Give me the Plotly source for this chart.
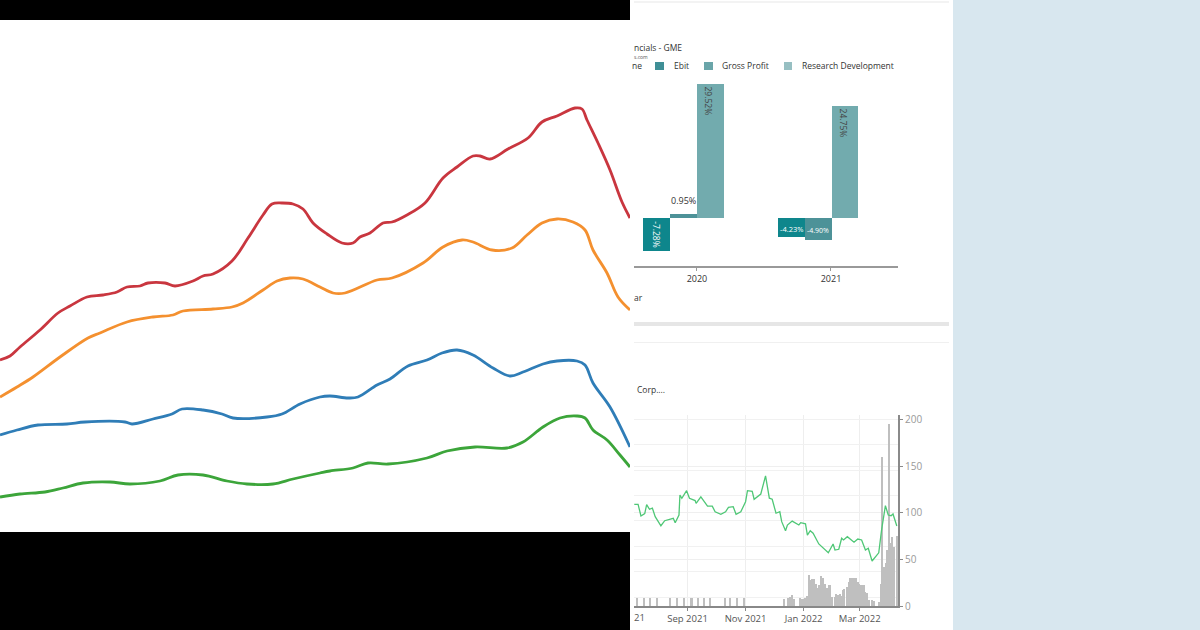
import datetime as dt
import plotly.graph_objects as go

W, H = 1200, 630
FONT = "Open Sans"

# ---- left panel: four smoothed lines (x = period index, y = level)
red_x = [0,10,20,40,58,70,87,103,117,127,140,148,165,175,193,203,213,232,248,263,272,282,293,303,313,327,342,353,360,370,383,392,407,425,443,457,473,480,490,508,528,542,557,575,582,587,598,610,622,630]
red_y = [172,176,185,202,219,226,235,237,240,245,246,249,249,246,251,256,258,271,294,317,328,329,328,323,309,298,289,289,295,299,309,310,317,329,354,365,376,376,373,383,394,410,416,424,423,412,389,362,330,314]
orange_x = [0,17,33,60,88,100,127,153,173,183,213,232,243,263,277,290,303,320,333,345,377,392,423,443,462,473,492,512,527,542,557,573,585,593,607,618,630]
orange_y = [135,145,155,175,194,199,210,215,217,221,223,225,229,242,251,254,253,245,239,239,252,254,269,285,292,290,282,284,297,309,313,310,302,282,259,235,222]
blue_x = [0,17,38,67,85,125,132,153,172,182,203,222,233,267,282,300,320,330,348,358,377,390,408,427,442,457,473,493,510,523,543,557,577,585,593,610,630]
blue_y = [97,102,107,108,110,110,108,113,118,123,122,118,114,115,118,128,135,136,134,135,147,153,166,172,179,182,177,164,156,160,168,171,171,167,149,125,85]
green_x = [0,20,45,63,83,110,130,160,178,203,227,247,273,293,320,330,353,368,388,427,447,475,507,523,543,560,577,585,593,607,620,630]
green_y = [35,38,40,44,49,50,48,51,57,57,51,48,48,53,59,61,64,69,68,74,81,85,84,90,105,114,116,114,102,92,77,65]

# ---- top right panel: financials
years = [2020, 2021]
ebit = [-7.28, -4.23]
gross_profit = [0.95, -4.90]
research_development = [29.52, 24.75]

# ---- bottom right panel: price and volume
first_day = dt.date(2021, 9, 1)
price_days = [-56,-52,-49,-45,-43,-40,-37,-34,-28,-24,-15,-13,-9,-8,-6,-1,2,8,9,14,21,26,29,35,40,43,48,51,56,61,63,68,70,77,82,86,89,93,97,99,103,105,110,117,119,124,126,129,132,138,148,153,155,159,162,164,168,175,179,183,187,190,194,201,204,208,211,214,216,220]
price = [109,109,96.5,99,108.6,103.7,105,95.7,86,91.4,94,89.3,97.5,119,115.5,123.6,115.5,113,110,117,107,107,101,98.3,101,105.8,106.4,98.3,101,111.8,123.6,123,114.4,120,139.4,115.5,114.4,99.4,101,90.4,80.7,86.8,91,86.8,89.3,88,76,80.7,78,66.5,57,66.5,60,60.8,72.6,70.8,74.3,68.3,71.8,70.8,60,61.9,48.2,57,81.5,107.5,97.5,96.8,98.6,85.8]
volume_days = [-53,-46,-39,-32,-18,-11,-4,4,5,11,17,24,39,45,52,59,102,106,108,110,112,118,119,122,124,126,128,129,131,133,135,136,138,140,142,143,145,147,149,150,152,155,156,158,160,162,164,165,168,170,171,173,175,177,179,180,182,184,186,187,189,191,194,196,201,203,205,207,209,210,212,214,215,217,220,221]
volume = [9,9,9,9,9,9,9,9,9,9,9,9,9,9,9,9,7,9,10,12,7,9,8,8,9,11,33,28,29,28.5,24,19,22.5,32.5,28.5,29.6,24,19,22.5,23,10,10,13,12,13,11,17,18,20.7,26,29.6,29.6,29.6,29.6,26,24,22.5,22.5,23,15,13.6,6.4,6.4,5.7,4.6,24,160,42,46,60,195,67,74,63.5,75,35]

price_dates = [first_day + dt.timedelta(days=d) for d in price_days]
volume_dates = [first_day + dt.timedelta(days=d) for d in volume_days]


def px_x(a, b):
    return [a / W, b / W]


def px_y(top, bottom):
    return [1 - bottom / H, 1 - top / H]


def rect(x0, y0, x1, y1, color):
    return dict(type="rect", xref="paper", yref="paper", x0=x0 / W, x1=x1 / W,
                y0=1 - y0 / H, y1=1 - y1 / H, fillcolor=color, line_width=0, layer="below")


def label(x, y, text, size=8.5, color="#333333", anchor="left", angle=0):
    return dict(xref="paper", yref="paper", x=x / W, y=1 - y / H, text=text, showarrow=False,
                xanchor=anchor, yanchor="middle", textangle=angle, borderpad=0, borderwidth=0,
                font=dict(family=FONT, size=size, color=color))


fig = go.Figure()

# left lines
for xs, ys, col in [(red_x, red_y, "#c9363f"), (orange_x, orange_y, "#f4902f"),
                    (blue_x, blue_y, "#2f7db7"), (green_x, green_y, "#3ca53a")]:
    fig.add_trace(go.Scatter(x=xs, y=ys, mode="lines", xaxis="x", yaxis="y",
                             line=dict(color=col, width=2.8, shape="spline", smoothing=1.0)))

# financial bars
bar_w = 0.2
off_ebit = [-0.403, -0.396]
off_gross = [-0.2, -0.196]
off_rd = [0, 0.004]
for vals, off, col in [(ebit, off_ebit, "#0e868c"), (gross_profit, off_gross, "#4d9298"),
                       (research_development, off_rd, "#72abae")]:
    fig.add_trace(go.Bar(x=years, y=vals, width=bar_w, offset=off, marker=dict(color=col, line_width=0),
                         xaxis="x2", yaxis="y2"))

# volume, price
fig.add_trace(go.Bar(x=volume_dates, y=volume, width=1.35 * 86400000,
                     marker=dict(color="#bfbfbf", line_width=0), xaxis="x3", yaxis="y3"))
fig.add_trace(go.Scatter(x=price_dates, y=price, mode="lines", line=dict(color="#4fc776", width=1.3),
                         xaxis="x3", yaxis="y4"))

shapes = [
    rect(630, 0, 953, 630, "#ffffff"),
    rect(0, 20, 630, 532, "#ffffff"),
    rect(0, 0, 630, 20, "#000000"),
    rect(0, 532, 630, 630, "#000000"),
    rect(634, 1, 949, 3, "#f3f3f3"),
    rect(634, 322, 949, 326, "#e6e6e6"),
    rect(634, 342, 949, 343, "#f0f0f0"),
    rect(655, 62, 664, 70, "#3f8f96"),
    rect(704, 62, 713, 70, "#6aa5a9"),
    rect(784, 62, 792, 70, "#97bfc2"),
]

annos = [
    label(634, 47.5, "ncials - GME", 8.5),
    label(634, 57, "s.com", 5, "#555555"),
    label(632, 66, "ne", 8.5),
    label(674, 66, "Ebit", 8.5),
    label(722, 66, "Gross Profit", 8.5),
    label(802, 66, "Research Development", 8.5),
    label(634, 297, "ar", 8.5),
    label(637, 389, "Corp....", 8.5),
    label(634, 617.5, "21", 9.5, "#555555"),
]


def bar_note(year, off, v, y, size, color, angle=0):
    return dict(x=year + off + bar_w / 2, y=y, xref="x2", yref="y2", text=f"{v:.2f}%", showarrow=False,
                textangle=angle, font=dict(family=FONT, size=size, color=color))


annos += [
    bar_note(years[0], off_ebit[0], ebit[0], ebit[0] / 2, 8.5, "#ffffff", 90),
    bar_note(years[1], off_ebit[1], ebit[1], ebit[1] / 2 - 0.4, 7.5, "#ffffff"),
    bar_note(years[0], off_gross[0], gross_profit[0], gross_profit[0] + 2.8, 9, "#333333"),
    bar_note(years[1], off_gross[1], gross_profit[1], gross_profit[1] / 2 - 0.4, 7, "#ffffff"),
    bar_note(years[0], off_rd[0] - 0.012, research_development[0], research_development[0] - 3.8, 8.5, "#444444", 90),
    bar_note(years[1], off_rd[1] - 0.012, research_development[1], research_development[1] - 3.8, 8.5, "#444444", 90),
]

hidden = dict(visible=False, fixedrange=True, automargin=False)
fig.update_layout(
    width=W, height=H, autosize=False, margin=dict(l=0, r=0, t=0, b=0, pad=0, autoexpand=False),
    paper_bgcolor="#d8e7ef", plot_bgcolor="rgba(0,0,0,0)", showlegend=False,
    shapes=shapes, annotations=annos, bargap=0,
    barmode="overlay",
    font=dict(family=FONT),
    xaxis=dict(domain=px_x(0, 630), range=[0, 630], **hidden),
    yaxis=dict(domain=px_y(20, 532), range=[0, 512], **hidden),
    xaxis2=dict(domain=px_x(634, 898), range=[2019.53, 2021.5], anchor="y2", showgrid=False, zeroline=False,
                automargin=False, showline=True, linecolor="#999999", linewidth=2, ticks="outside", ticklen=3,
                tickcolor="#999999", tickvals=years, ticktext=[str(y) for y in years],
                tickfont=dict(family=FONT, size=9, color="#333333")),
    yaxis2=dict(domain=px_y(70, 266), range=[-10.57, 32.6], anchor="x2", **hidden),
    xaxis3=dict(domain=px_x(634, 898), range=["2021-07-06 17:00", "2022-04-10 06:00"], anchor="y3", type="date",
                tickvals=["2021-09-01", "2021-11-01", "2022-01-01", "2022-03-01"],
                ticktext=["Sep 2021", "Nov 2021", "Jan 2022", "Mar 2022"], automargin=False,
                showgrid=True, gridcolor="#eeeeee", gridwidth=1, zeroline=False, showline=True,
                linecolor="#888888", linewidth=1.5, ticks="outside", ticklen=3, tickcolor="#888888",
                tickfont=dict(family=FONT, size=9.5, color="#555555")),
    yaxis3=dict(domain=px_y(415, 606), range=[0, 204.7], anchor="x3", side="right", tickvals=[0, 50, 100, 150, 200],
                automargin=False, showgrid=True, gridcolor="#efefef", gridwidth=1, zeroline=False, showline=True,
                linecolor="#8a8a8a", linewidth=2, ticks="outside", ticklen=3, tickcolor="#8a8a8a",
                tickfont=dict(family=FONT, size=10, color="#999999")),
    yaxis4=dict(domain=px_y(415, 606), range=[0, 204.7], anchor="x3", overlaying="y3", side="right", automargin=False,
                tick0=9.6, dtick=27.2, showticklabels=False, ticks="", showline=False, zeroline=False,
                showgrid=True, gridcolor="#f1f1f1", gridwidth=1),
)

fig.write_html("out.html", config=dict(displayModeBar=False),
               post_script="document.body.style.margin='0';document.body.style.overflow='hidden';")
